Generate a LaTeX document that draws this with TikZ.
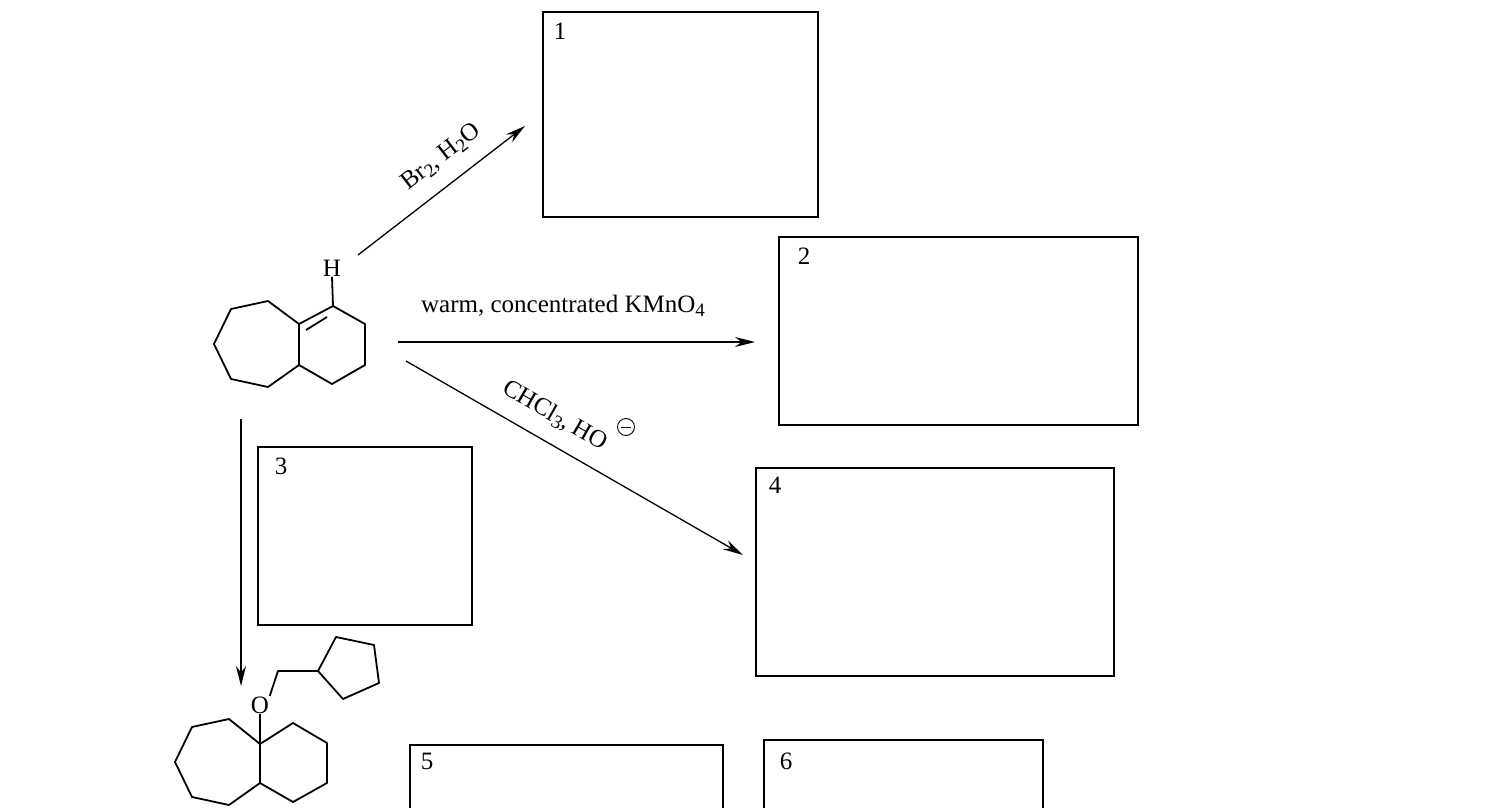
\documentclass[tikz,border=0pt]{standalone}
\usepackage{fontspec}
\setmainfont{Liberation Serif}
\usetikzlibrary{arrows.meta}
\newcommand{\sbs}[1]{\raisebox{-0.35ex}{\fontsize{19}{20}\selectfont #1}}
\begin{document}
\begin{tikzpicture}[x=1pt,y=-1pt,line width=1.5pt,
  box/.style={draw,line width=1.5pt},
  lbl/.style={font=\fontsize{25}{28}\selectfont,inner sep=0pt},
  arr/.style={-{Stealth[length=20pt,width=10pt]},line width=1.3pt},
  bond/.style={line width=1.8pt,line join=round}]
\useasboundingbox (0,0) rectangle (1502,808);
% boxes
\draw[box] (543,12) rectangle (818,217); \node[lbl,anchor=north west] (n1) at (553,22) {1};
\draw[box] (779,237) rectangle (1138,425); \node[lbl,anchor=north west] (n2) at (797,247) {2};
\draw[box] (258,447) rectangle (472,625); \node[lbl,anchor=north west] (n3) at (274,457) {3};
\draw[box] (756,468) rectangle (1114,676); \node[lbl,anchor=north west] (n4) at (768,476) {4};
\draw[box] (410,745) rectangle (723,820); \node[lbl,anchor=north west] (n5) at (420,752) {5};
\draw[box] (764,740) rectangle (1043,820); \node[lbl,anchor=north west] (n6) at (779,752) {6};
% top molecule
\node[lbl] (H) at (332,268) {H};
\draw[bond] (333,306)--(365,324)--(365,365)--(332,384)--(299,365)--(299,324)--cycle;
\draw[bond] (299,324)--(268,301)--(231,309)--(214,344)--(231,379)--(268,387)--(299,365);
\draw[bond] (327,317)--(306,330);
\draw[bond] (H.south)--(333,306);
% arrows
\coordinate (a1s) at (358,255); \coordinate (a1e) at (525,126);
\draw[arr] (a1s)--(a1e);
\node[lbl,rotate=37.7] (r1) at (441,157) {Br\sbs{2}, H\sbs{2}O};
\coordinate (a2s) at (398,342); \coordinate (a2e) at (755,342);
\draw[arr] (a2s)--(a2e);
\node[lbl] (r2) at (563,306) {warm, concentrated KMnO\sbs{4}};
\coordinate (a3s) at (406,361); \coordinate (a3e) at (743,555);
\draw[arr] (a3s)--(a3e);
\node[lbl,rotate=-29.9] (r3) at (555,416) {CHCl\sbs{3}, HO};
\node[draw,circle,line width=0.9pt,minimum size=17pt,inner sep=0pt] (minus) at (626,427) {};
\draw[line width=0.9pt] ([xshift=-5pt]minus.center)--([xshift=5pt]minus.center);
\coordinate (a4s) at (241,419); \coordinate (a4e) at (241,686);
\draw[arr] (a4s)--(a4e);
% bottom molecule
\node[lbl] (O) at (260,705) {O};
\draw[bond] (O.south)--(260,744);
\draw[bond] (260,744)--(293,723)--(327,743)--(327,783)--(293,802)--(260,783)--cycle;
\draw[bond] (260,744)--(229,719)--(192,727)--(175,762)--(192,797)--(229,805)--(260,783);
\draw[bond] (O.north east)--(278,671)--(318,671);
\draw[bond] (318,671)--(336,637)--(374,645)--(379,683)--(343,699)--cycle;
\end{tikzpicture}
\end{document}
